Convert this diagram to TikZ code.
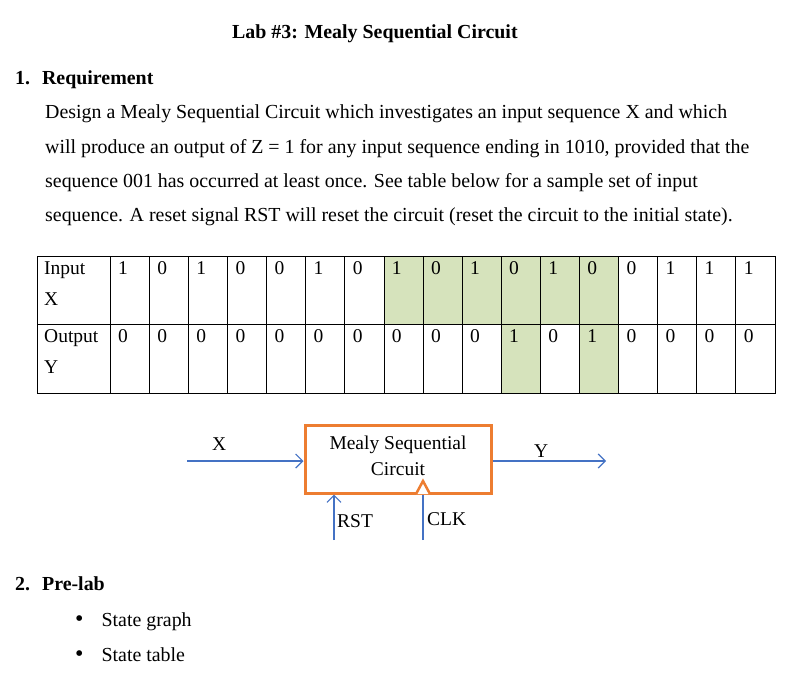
\documentclass[tikz,border=0pt]{standalone}
\usepackage{fontspec}
\setmainfont{Liberation Serif}
\usetikzlibrary{arrows.meta}

\definecolor{sigblue}{RGB}{68,114,196}
\definecolor{boxorange}{RGB}{237,125,49}
\definecolor{cellgreen}{RGB}{214,227,188}

\def\colw{39.1}
\def\ncols{17}

\begin{document}
\begin{tikzpicture}[x=1pt, y=-1pt,
        txt/.style={anchor=base west, inner sep=0pt, font=\fontsize{19.9}{22}\selectfont},
        cell text/.style={anchor=base west, inner sep=0pt, font=\fontsize{19.5}{22}\selectfont},
        green cell/.style={fill=cellgreen},
        sig/.style={draw=sigblue, line width=1.2pt, -{Straight Barb[length=7pt,width=14pt]}},
        block/.style={draw=boxorange, line width=3pt, minimum width=186pt, minimum height=68pt, inner sep=0pt}
    ]
    \useasboundingbox (0,0) rectangle (802,672);

    % Heading and requirement text
    \node[txt, font=\fontsize{19.9}{22}\selectfont\bfseries] (title) at (232,38) {Lab \#3: Mealy Sequential Circuit};
    \node[txt, font=\fontsize{19.9}{22}\selectfont\bfseries] (req) at (15,84) {1.\hspace{12pt}Requirement};
    \node[txt] (l1) at (45,118) {Design a Mealy Sequential Circuit which investigates an input sequence X and which};
    \node[txt] (l2) at (45,153) {will produce an output of Z = 1 for any input sequence ending in 1010, provided that the};
    \node[txt] (l3) at (45,187) {sequence 001 has occurred at least once. See table below for a sample set of input};
    \node[txt] (l4) at (45,221) {sequence. A reset signal RST will reset the circuit (reset the circuit to the initial state).};

    % Table shading
    \fill[green cell] (110+7*\colw,256) rectangle (110+13*\colw,324);
    \foreach \c in {11,13} {
        \fill[green cell] (110+\c*\colw-\colw,324) rectangle (110+\c*\colw,393);
    }

    % Table grid
    \draw (37,256) rectangle (775,393);
    \draw (37,324) -- (775,324);
    \foreach \c in {0,...,16} {
        \draw (110+\c*\colw,256) -- (110+\c*\colw,393);
    }

    % Table texts
    \node[cell text] (inA) at (44,274) {Input};
    \node[cell text] (inB) at (44,305) {X};
    \node[cell text] (outA) at (44,342) {Output};
    \node[cell text] (outB) at (44,373) {Y};
    \foreach \v [count=\c from 0] in {1,0,1,0,0,1,0,1,0,1,0,1,0,0,1,1,1} {
        \node[cell text] (x\c) at (118+\c*\colw,274) {\v};
    }
    \foreach \v [count=\c from 0] in {0,0,0,0,0,0,0,0,0,0,1,0,1,0,0,0,0} {
        \node[cell text] (y\c) at (118+\c*\colw,342) {\v};
    }

    % Block diagram
    \node[block] (mealy) at (398,459) {};
    \node[align=center, inner sep=0pt, font=\fontsize{19.5}{26}\selectfont] (name) at (398,456) {Mealy Sequential\\Circuit};
    \coordinate (xin) at (187,461);
    \coordinate (yout) at (606,461);
    \coordinate (rst) at (334,540);
    \coordinate (clk) at (423,540);
    \draw[sig] (xin) -- (xin -| mealy.west);
    \draw[sig] (yout -| mealy.east) -- (yout);
    \draw[sig] (rst) -- (rst |- mealy.south);
    \draw[draw=sigblue, line width=1.2pt] (clk) -- (clk |- mealy.south);
    \draw[draw=boxorange, line width=2.5pt, fill=white] (416,494) -- (423,481) -- (430,494);
    \node[cell text] (xl) at (212,450) {X};
    \node[cell text] (yl) at (534,457) {Y};
    \node[cell text] (rstl) at (337,527) {RST};
    \node[cell text] (clkl) at (427,525) {CLK};

    % Pre-lab
    \node[txt, font=\fontsize{19.9}{22}\selectfont\bfseries] (pre) at (15,590) {2.\hspace{12pt}Pre-lab};
    \node[txt] (b1) at (75,626) {\fontsize{24}{22}\selectfont\textbullet\hspace{18pt}\fontsize{19.9}{22}\selectfont State graph};
    \node[txt] (b2) at (75,661) {\fontsize{24}{22}\selectfont\textbullet\hspace{18pt}\fontsize{19.9}{22}\selectfont State table};
\end{tikzpicture}
\end{document}
